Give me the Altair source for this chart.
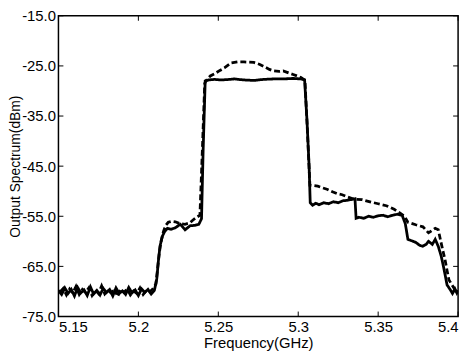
import altair as alt
import pandas as pd

# ---- data ----
solid_freq = [
    5.150, 5.152, 5.154, 5.156, 5.158, 5.160, 5.162, 5.164, 5.166, 5.168,
    5.170, 5.172, 5.174, 5.176, 5.178, 5.180, 5.182, 5.184, 5.186, 5.188,
    5.190, 5.192, 5.194, 5.196, 5.198, 5.200, 5.202, 5.204, 5.206, 5.208,
    5.210,
    5.2115, 5.2125, 5.2135, 5.2150, 5.2165, 5.2182, 5.2205, 5.2231, 5.2262,
    5.2292, 5.2323, 5.2354, 5.2378, 5.2395, 5.2405, 5.2418,
    5.2440, 5.2476, 5.2520, 5.2570, 5.2600, 5.2660, 5.2722, 5.2780, 5.2845,
    5.2906, 5.2968, 5.3017, 5.3040,
    5.3055, 5.3068, 5.3075,
    5.3090, 5.3110, 5.3130, 5.3160, 5.3190, 5.3220, 5.3250, 5.3280, 5.3310,
    5.3340, 5.3355, 5.3362, 5.3380, 5.3410, 5.3440, 5.3470, 5.3500, 5.3530,
    5.3560, 5.3590, 5.3620, 5.3650, 5.3670, 5.3686, 5.3710, 5.3735, 5.3760,
    5.3778, 5.3800, 5.3815, 5.3839, 5.3857, 5.3876, 5.3894, 5.3907, 5.3919,
    5.3931, 5.3950, 5.3965, 5.3980, 5.3992, 5.4000,
]
solid_level = [
    -69.8, -70.6, -69.3, -70.4, -69.6, -70.9, -69.2, -70.3, -69.7, -70.8,
    -69.1, -70.5, -69.8, -70.7, -69.4, -70.2, -69.6, -70.9, -69.3, -70.4,
    -69.9, -70.6, -69.2, -70.3, -69.7, -70.8, -69.5, -70.2, -69.6, -70.5,
    -69.8,
    -67.5, -64.0, -61.0, -59.0, -58.0, -57.4, -57.6, -57.3, -56.6,
    -57.7, -56.9, -56.8, -56.6, -55.5, -42.0, -28.0,
    -27.8, -27.7, -27.8, -27.7, -27.6, -27.8, -27.9, -27.7, -27.6,
    -27.6, -27.5, -27.6, -27.8,
    -36.0, -45.0, -52.3,
    -52.8, -52.4, -52.7, -52.3, -52.5, -52.1, -52.3, -51.9, -51.8,
    -51.6, -51.5, -55.4, -55.2, -55.4, -55.0, -55.2, -54.9, -54.8,
    -55.1, -54.8, -54.6, -54.8, -56.5, -59.6, -59.9, -60.2, -60.8,
    -61.0, -60.6, -60.0, -60.6, -59.6, -61.0, -62.9, -64.8, -66.7,
    -68.7, -69.6, -70.4, -69.5, -70.3, -69.8,
]

dashed_freq = [
    5.151, 5.153, 5.155, 5.157, 5.159, 5.161, 5.163, 5.165, 5.167, 5.169,
    5.171, 5.173, 5.175, 5.177, 5.179, 5.181, 5.183, 5.185, 5.187, 5.189,
    5.191, 5.193, 5.195, 5.197, 5.199, 5.201, 5.203, 5.205, 5.207, 5.209,
    5.211,
    5.2120, 5.2130, 5.2142, 5.2157, 5.2172, 5.2187, 5.2210, 5.2231, 5.2262,
    5.2292, 5.2323, 5.2340, 5.2360, 5.2385, 5.2400, 5.2415, 5.2427,
    5.2450, 5.2476, 5.2510, 5.2538, 5.2581, 5.2620, 5.2661, 5.2722, 5.2760,
    5.2784, 5.2820, 5.2845, 5.2880, 5.2906, 5.2940, 5.2968, 5.3017, 5.3042,
    5.3056, 5.3066, 5.3073,
    5.3100, 5.3122, 5.3150, 5.3180, 5.3214, 5.3245, 5.3275, 5.3305, 5.3349,
    5.3400, 5.3459, 5.3500, 5.3551, 5.3600, 5.3644, 5.3665, 5.3686, 5.3735,
    5.3780, 5.3815, 5.3857, 5.3876, 5.3896, 5.3919, 5.3931, 5.3943, 5.3962,
    5.3980, 5.3992, 5.4000,
]
dashed_level = [
    -70.1, -69.4, -70.7, -69.5, -70.3, -69.0, -70.6, -69.6, -70.2, -69.3,
    -70.8, -69.7, -70.4, -68.9, -70.5, -69.8, -70.3, -69.4, -71.0, -69.6,
    -70.2, -69.5, -70.7, -69.9, -70.4, -69.3, -70.6, -69.8, -70.1, -69.5,
    -68.5,
    -65.5, -62.5, -60.0, -58.0, -56.8, -56.2, -56.0, -56.1, -56.5,
    -56.6, -56.3, -55.8, -55.3, -54.8, -42.0, -28.5, -27.8,
    -27.0, -26.6, -25.9, -25.4, -24.4, -24.2, -24.2, -24.3, -24.7,
    -25.1, -25.7, -26.0, -26.1, -26.0, -26.4, -26.7, -27.3, -27.9,
    -37.0, -44.0, -48.8,
    -48.9, -49.0, -49.3, -49.6, -50.1, -50.5, -50.7, -51.1, -51.6,
    -51.7, -52.2, -52.5, -52.9, -53.6, -54.5, -55.0, -56.2, -56.7,
    -57.1, -58.3, -57.4, -57.7, -60.6, -63.8, -65.8, -67.7, -68.7,
    -69.6, -70.2, -69.8,
]

x_ticks = [5.15, 5.2, 5.25, 5.3, 5.35, 5.4]
y_ticks = [-75, -65, -55, -45, -35, -25, -15]

# ---- layout ----
W, H = 404, 304
FONT = "Liberation Sans"

df = pd.concat([
    pd.DataFrame({"freq": solid_freq, "level": solid_level, "series": "solid"}),
    pd.DataFrame({"freq": dashed_freq, "level": dashed_level, "series": "dashed"}),
])

xs = alt.Scale(domain=[5.15, 5.4], nice=False, zero=False)
ys = alt.Scale(domain=[-75, -15], nice=False, zero=False)

x_axis = alt.Axis(
    values=x_ticks, format="~g", title="Frequency(GHz)",
    labelPadding=3, titleY=19, titleBaseline="top",
)
y_axis = alt.Axis(
    values=y_ticks, title="Output Spectrum(dBm)",
    labelExpr="(datum.value < 0 ? '-' : '') + format(abs(datum.value), '.1f')",
    labelPadding=3, titleX=-36, titleY=H / 2, titleFontSize=14,
)

lines = alt.Chart(df).mark_line(color="black", strokeWidth=2.8, clip=True).encode(
    x=alt.X("freq:Q", scale=xs, axis=x_axis),
    y=alt.Y("level:Q", scale=ys, axis=y_axis),
    strokeDash=alt.StrokeDash(
        "series:N",
        scale=alt.Scale(domain=["solid", "dashed"], range=[[1, 0], [6, 3]]),
        legend=None,
    ),
    detail="series:N",
)

xt = alt.Chart(pd.DataFrame({"freq": x_ticks}))
yt = alt.Chart(pd.DataFrame({"level": y_ticks}))

tick_bottom = xt.mark_rule(color="black", strokeWidth=1).encode(
    x=alt.X("freq:Q", scale=xs, axis=x_axis), y=alt.value(H), y2=alt.value(H - 5))
tick_top = xt.mark_rule(color="black", strokeWidth=1).encode(
    x=alt.X("freq:Q", scale=xs, axis=x_axis), y=alt.value(0), y2=alt.value(5))
tick_left = yt.mark_rule(color="black", strokeWidth=1).encode(
    y=alt.Y("level:Q", scale=ys, axis=y_axis), x=alt.value(0), x2=alt.value(5))
tick_right = yt.mark_rule(color="black", strokeWidth=1).encode(
    y=alt.Y("level:Q", scale=ys, axis=y_axis), x=alt.value(W - 5), x2=alt.value(W))

chart = alt.layer(lines, tick_bottom, tick_top, tick_left, tick_right).properties(
    width=W, height=H,
    autosize=alt.AutoSizeParams(type="none"),
    padding={"left": 51, "top": 6, "right": 8, "bottom": 34},
    background="white",
).configure_view(
    stroke="black", strokeWidth=1.5,
).configure_axis(
    domain=False, grid=False, ticks=False,
    labelFont=FONT, labelFontSize=15, labelColor="black",
    titleFont=FONT, titleFontSize=15, titleFontWeight="normal", titleColor="black",
)

chart.save("out.html", embed_options={"renderer": "svg", "actions": False})
